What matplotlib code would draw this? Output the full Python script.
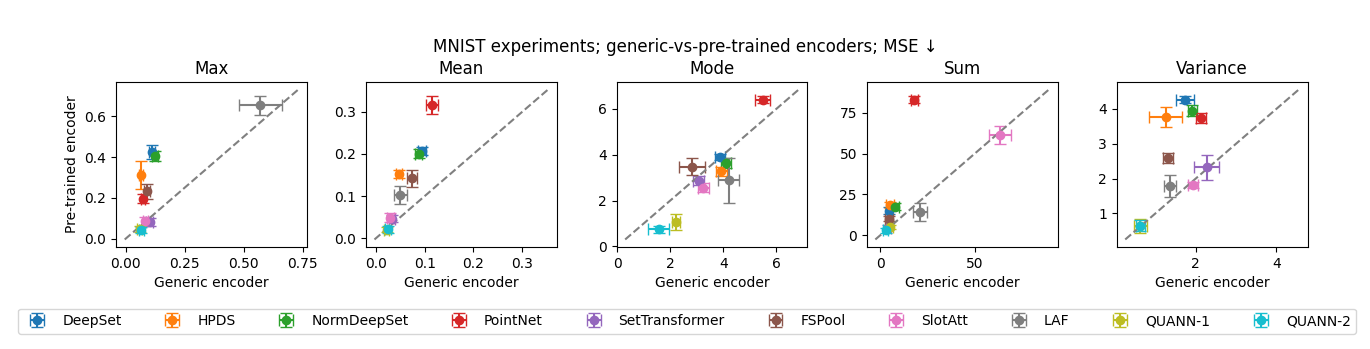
import numpy as np
import matplotlib
matplotlib.use("Agg")
import matplotlib.pyplot as plt
from matplotlib.ticker import MultipleLocator

methods = ["DeepSet", "HPDS", "NormDeepSet", "PointNet", "SetTransformer",
           "FSPool", "SlotAtt", "LAF", "QUANN-1", "QUANN-2"]
tasks = ["Max", "Mean", "Mode", "Sum", "Variance"]

# generic encoder (x) / pre-trained encoder (y), mean and error, one entry per method
max_gen = [0.112, 0.064, 0.124, 0.074, 0.102, 0.092, 0.084, 0.571, 0.060, 0.067]
max_gen_err = [0.012, 0.008, 0.012, 0.010, 0.015, 0.012, 0.012, 0.090, 0.010, 0.010]
max_pre = [0.426, 0.313, 0.405, 0.197, 0.081, 0.232, 0.086, 0.653, 0.047, 0.045]
max_pre_err = [0.033, 0.067, 0.025, 0.020, 0.020, 0.037, 0.020, 0.045, 0.015, 0.015]

mean_gen = [0.094, 0.047, 0.088, 0.115, 0.032, 0.074, 0.029, 0.050, 0.022, 0.024]
mean_gen_err = [0.008, 0.006, 0.007, 0.012, 0.006, 0.010, 0.007, 0.014, 0.005, 0.006]
mean_pre = [0.207, 0.152, 0.201, 0.316, 0.046, 0.142, 0.049, 0.102, 0.020, 0.021]
mean_pre_err = [0.010, 0.010, 0.010, 0.021, 0.008, 0.020, 0.010, 0.022, 0.006, 0.008]

mode_gen = [3.87, 3.93, 4.11, 5.48, 3.07, 2.83, 3.25, 4.20, 2.22, 1.57]
mode_gen_err = [0.20, 0.20, 0.20, 0.27, 0.20, 0.48, 0.20, 0.40, 0.15, 0.40]
mode_pre = [3.90, 3.28, 3.64, 6.40, 2.86, 3.48, 2.56, 2.88, 1.05, 0.75]
mode_pre_err = [0.15, 0.20, 0.20, 0.15, 0.20, 0.38, 0.20, 0.97, 0.35, 0.15]

sum_gen = [4.8, 5.0, 7.5, 18.0, 4.2, 4.5, 63.3, 20.8, 5.0, 2.7]
sum_gen_err = [1.5, 2.0, 2.5, 2.0, 1.5, 2.0, 5.8, 3.7, 1.5, 1.5]
sum_pre = [15.0, 18.5, 17.5, 83.1, 4.5, 10.0, 61.5, 14.1, 5.0, 3.0]
sum_pre_err = [2.0, 2.0, 2.0, 2.0, 1.5, 1.5, 5.6, 5.5, 1.5, 1.5]

var_gen = [1.74, 1.26, 1.92, 2.13, 2.27, 1.31, 1.94, 1.37, 0.63, 0.63]
var_gen_err = [0.22, 0.41, 0.12, 0.12, 0.30, 0.12, 0.12, 0.15, 0.17, 0.12]
var_pre = [4.26, 3.77, 3.95, 3.74, 2.33, 2.59, 1.82, 1.79, 0.65, 0.65]
var_pre_err = [0.10, 0.29, 0.15, 0.15, 0.36, 0.15, 0.08, 0.32, 0.20, 0.15]

x_steps = [0.25, 0.1, 2, 50, 2]
y_steps = [0.2, 0.1, 2, 25, 1]

panels = [
    (max_gen, max_gen_err, max_pre, max_pre_err),
    (mean_gen, mean_gen_err, mean_pre, mean_pre_err),
    (mode_gen, mode_gen_err, mode_pre, mode_pre_err),
    (sum_gen, sum_gen_err, sum_pre, sum_pre_err),
    (var_gen, var_gen_err, var_pre, var_pre_err),
]

fig = plt.figure(figsize=(13.7, 3.49), dpi=100)
lefts = [0.0847, 0.267, 0.450, 0.6326, 0.815]
handles = []
for k, (task, (gx, gxe, py, pye)) in enumerate(zip(tasks, panels)):
    ax = fig.add_axes([lefts[k], 0.2923, 0.1394, 0.4728])
    for i, m in enumerate(methods):
        h = ax.errorbar(gx[i], py[i], xerr=gxe[i], yerr=pye[i], fmt="o",
                        color=f"C{i}", capsize=4, markersize=6, label=m)
        if k == 0:
            handles.append(h)
    # diagonal over the auto limits
    xl = ax.get_xlim()
    yl = ax.get_ylim()
    lo = min(xl[0], yl[0])
    hi = max(xl[1], yl[1])
    ax.plot([lo, hi], [lo, hi], "--", color="gray")
    ax.xaxis.set_major_locator(MultipleLocator(x_steps[k]))
    ax.yaxis.set_major_locator(MultipleLocator(y_steps[k]))
    ax.set_title(task)
    ax.set_xlabel("Generic encoder")
    if k == 0:
        ax.set_ylabel("Pre-trained encoder")

fig.suptitle("MNIST experiments; generic-vs-pre-trained encoders; MSE \u2193",
             y=0.89, fontsize=12)
fig.legend(handles, methods, ncol=10, mode="expand", loc="center",
           bbox_to_anchor=(0.008, 0.0, 0.987, 0.16))
fig.savefig("out.png", dpi=100)
